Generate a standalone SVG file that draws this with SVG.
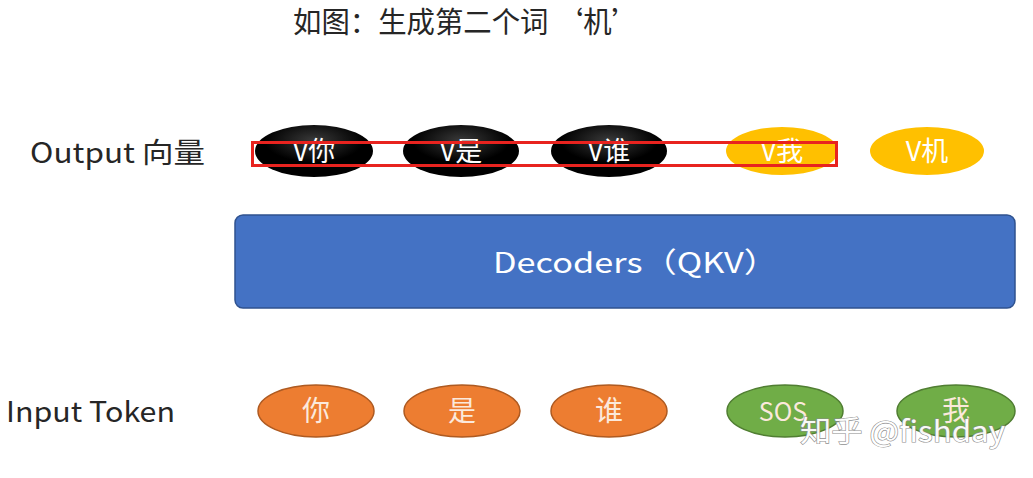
<svg xmlns="http://www.w3.org/2000/svg" width="1033" height="478" viewBox="0 0 1033 478">
<defs>
<radialGradient id="blk" cx="0.5" cy="0.3" r="0.7">
<stop offset="0" stop-color="#3a3a3a"/>
<stop offset="0.6" stop-color="#000"/>
<stop offset="1" stop-color="#000"/>
</radialGradient>
<style>
text{font-family:"Noto Sans CJK SC","Noto Sans",sans-serif;}
.lbl{font-size:28px;fill:#262626;}
.title{font-size:29px;fill:#262626;}
.in{font-size:28px;fill:#fbe9dc;text-anchor:middle;}
.out{font-size:27px;fill:#fff;text-anchor:middle;}
.orange{fill:#ed7d31;stroke:#ae5a21;stroke-width:1.5;}
.green{fill:#70ad47;stroke:#507e32;stroke-width:1.5;}
.yellow{fill:#ffc000;}
.black{fill:url(#blk);}
</style>
</defs>
<rect width="1033" height="478" fill="#fff"/>
<text class="title" x="293" y="33" textLength="347" lengthAdjust="spacingAndGlyphs">如图：生成第二个词 ‘机’</text>
<text class="lbl" x="30" y="163" textLength="175" lengthAdjust="spacingAndGlyphs">Output 向量</text>
<text class="lbl" x="6" y="422" textLength="169" lengthAdjust="spacingAndGlyphs">Input Token</text>
<g id="out-ni"><ellipse class="black" cx="314" cy="151" rx="59" ry="26"/><text class="out" x="314" y="161">V你</text></g>
<g id="out-shi"><ellipse class="black" cx="461" cy="151" rx="58" ry="26"/><text class="out" x="461" y="161">V是</text></g>
<g id="out-shui"><ellipse class="black" cx="609" cy="151" rx="58" ry="26"/><text class="out" x="609" y="161">V谁</text></g>
<g id="out-wo"><ellipse class="yellow" cx="782" cy="151" rx="56" ry="24"/><text class="out" x="782" y="161">V我</text></g>
<g id="out-ji"><ellipse class="yellow" cx="927" cy="151" rx="57" ry="24"/><text class="out" x="927" y="161">V机</text></g>
<g id="highlight"><rect x="252.5" y="142.5" width="584" height="23" fill="none" stroke="#e8231f" stroke-width="3"/></g>
<g id="decoders"><rect x="235" y="215" width="780" height="93" rx="8" fill="#4472c4" stroke="#2f528f" stroke-width="1.5"/><text x="493" y="273" textLength="285" lengthAdjust="spacingAndGlyphs" style="font-size:28px;fill:#fff;">Decoders（QKV）</text></g>
<g id="in-ni"><ellipse class="orange" cx="316" cy="411" rx="58" ry="26"/><text class="in" x="316" y="421">你</text></g>
<g id="in-shi"><ellipse class="orange" cx="462" cy="411" rx="58" ry="26"/><text class="in" x="462" y="421">是</text></g>
<g id="in-shui"><ellipse class="orange" cx="609" cy="411" rx="58" ry="26"/><text class="in" x="609" y="421">谁</text></g>
<g id="in-sos"><ellipse class="green" cx="785" cy="411" rx="58" ry="26"/><text class="in" x="783" y="421" style="font-size:25px">SOS</text></g>
<g id="in-wo"><ellipse class="green" cx="956" cy="411" rx="59" ry="26"/><text class="in" x="956" y="421">我</text></g>
<g id="connectors"></g>
<text x="800" y="442" textLength="205" lengthAdjust="spacingAndGlyphs" style="font-size:29px;fill:#fff;stroke:#8a8a8a;stroke-width:1.2;paint-order:stroke;opacity:0.95">知乎 @fishday</text>
</svg>
